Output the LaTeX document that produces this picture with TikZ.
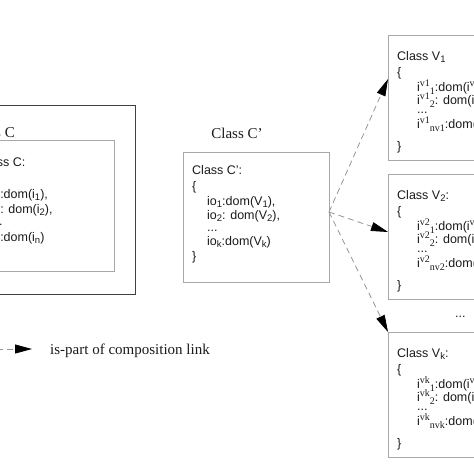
\documentclass[tikz,border=0pt]{standalone}
\usepackage{fontspec}
\setmainfont{Liberation Serif}
\setsansfont{Liberation Sans}
\usetikzlibrary{arrows.meta}
\newcommand\Ssb[1]{\raisebox{-0.4ex}{\fontsize{9.5}{10}\selectfont #1}}
\newcommand\Vsp[1]{\raisebox{0.75ex}{\rmfamily\fontsize{10}{10}\selectfont #1}}
\newcommand\Vsb[1]{\raisebox{-0.5ex}{\rmfamily\fontsize{10}{10}\selectfont #1}}
\definecolor{boxgray}{HTML}{A8A8A8}
\definecolor{linkgray}{HTML}{959595}
\definecolor{txt}{HTML}{1A1A1A}
\begin{document}
\begin{tikzpicture}[x=1pt,y=-1pt,
  outerbox/.style={draw=black!75, line width=1pt, inner sep=0pt, outer sep=0pt},
  classbox/.style={draw=boxgray, line width=0.9pt, inner sep=0pt, outer sep=0pt},
  line/.style={anchor=base west, inner sep=0pt, text=txt, font=\sffamily\fontsize{12.5}{14}\selectfont},
  title/.style={inner sep=0pt, text=txt, font=\rmfamily\fontsize{15}{17}\selectfont},
  link/.style={draw=linkgray, line width=0.8pt, dash pattern=on 6pt off 4pt,
    -{Triangle[length=17pt,width=9pt,color=black]}}]
\useasboundingbox (0,0) rectangle (474,474);
\clip (0,0) rectangle (474,474);

% ---- Class C (left, cut by the page edge)
\node[outerbox, minimum width=175pt, minimum height=189pt] (cout) at (47.5,199.5) {};
\node[classbox, minimum width=142pt, minimum height=131pt] (cin) at (43,205.5) {};
\node[title, anchor=base east] (ctitle) at (15,137) {Class C};
\node[line] (c1) at (-22,166) {Class C:};
\node[line] (c2) at (-22,182) {\{};
\node[line] (c3) at (-8,198) {i\Ssb{1}:dom(i\Ssb{1}),};
\node[line] (c4) at (-8,213) {i\Ssb{2}: dom(i\Ssb{2}),};
\node[line] (c5) at (-8,225) {...};
\node[line] (c6) at (-8,241) {i\Ssb{n}:dom(i\Ssb{n})};
\node[line] (c7) at (-22,256) {\}};

% ---- Class C'
\node[title] (cptitle) at (237,133) {Class C'};
\node[classbox, minimum width=146pt, minimum height=130pt] (cp) at (256,217) {};
\node[line] (p1) at (192,174) {Class C':};
\node[line] (p2) at (192,190) {\{};
\node[line] (p3) at (207,205) {io\Ssb{1}:dom(V\Ssb{1}),};
\node[line] (p4) at (207,219) {io\Ssb{2}: dom(V\Ssb{2}),};
\node[line] (p5) at (207,231) {...};
\node[line] (p6) at (207,245) {io\Ssb{k}:dom(V\Ssb{k})};
\node[line] (p7) at (192,260) {\}};

% ---- Class V1
\node[classbox, minimum width=172pt, minimum height=125pt] (v1) at (474,97.5) {};
\node[line] (a1) at (397,60) {Class V\Ssb{1}};
\node[line] (a2) at (397,76) {\{};
\node[line] (a3) at (417,91) {i\Vsp{v1}\Vsb{1}:dom(i\Vsp{v1}\Vsb{1}),};
\node[line] (a4) at (417,104) {i\Vsp{v1}\Vsb{2}: dom(i\Vsp{v1}\Vsb{2}),};
\node[line] (a5) at (417,113) {...};
\node[line] (a6) at (417,128) {i\Vsp{v1}\Vsb{nv1}:dom(i\Vsp{v1}\Vsb{nv1})};
\node[line] (a7) at (397,150) {\}};

% ---- Class V2
\node[classbox, minimum width=172pt, minimum height=125pt] (v2) at (474,236.5) {};
\node[line] (b1) at (397,199) {Class V\Ssb{2}:};
\node[line] (b2) at (397,215) {\{};
\node[line] (b3) at (417,230) {i\Vsp{v2}\Vsb{1}:dom(i\Vsp{v2}\Vsb{1}),};
\node[line] (b4) at (417,243) {i\Vsp{v2}\Vsb{2}: dom(i\Vsp{v2}\Vsb{2}),};
\node[line] (b5) at (417,252) {...};
\node[line] (b6) at (417,267) {i\Vsp{v2}\Vsb{nv2}:dom(i\Vsp{v2}\Vsb{nv2})};
\node[line] (b7) at (397,289) {\}};

\node[line] (dots) at (455,317) {...};

% ---- Class Vk
\node[classbox, minimum width=172pt, minimum height=125pt] (vk) at (474,394.5) {};
\node[line] (k1) at (397,357) {Class V\Ssb{k}:};
\node[line] (k2) at (397,373) {\{};
\node[line] (k3) at (417,388) {i\Vsp{vk}\Vsb{1}:dom(i\Vsp{vk}\Vsb{1}),};
\node[line] (k4) at (417,401) {i\Vsp{vk}\Vsb{2}: dom(i\Vsp{vk}\Vsb{2}),};
\node[line] (k5) at (417,410) {...};
\node[line] (k6) at (417,425) {i\Vsp{vk}\Vsb{nvk}:dom(i\Vsp{vk}\Vsb{nvk})};
\node[line] (k7) at (397,447) {\}};

% ---- is-part links
\coordinate (o) at (329,212);
\coordinate (t1) at (388,79);
\coordinate (t2) at (388,232);
\draw[link] (o) -- (t1);
\draw[link] (o) -- (t2);
\draw[link] (o) -- (vk.north west);

% ---- legend
\coordinate (lg0) at (-3,349);
\coordinate (lg1) at (32,349);
\draw[link] (lg0) -- (lg1);
\node[title, anchor=base west] (legend) at (50,354) {is-part of composition link};
\end{tikzpicture}
\end{document}
